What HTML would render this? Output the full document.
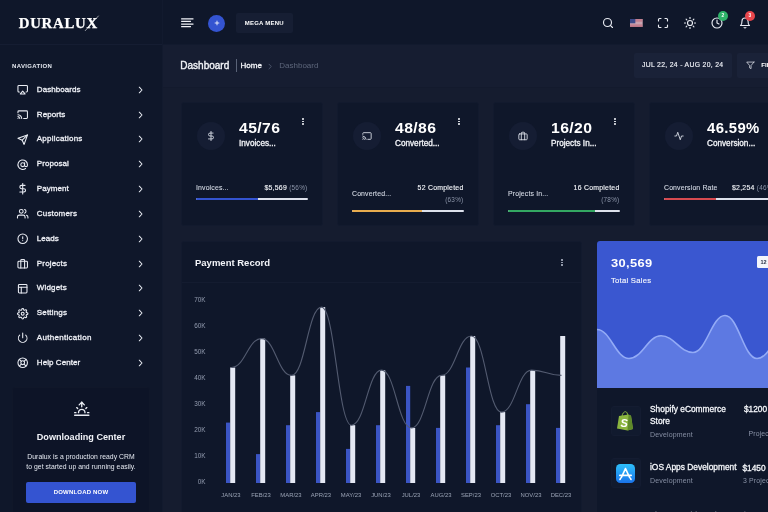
<!DOCTYPE html>
<html lang="en">
<head>
<meta charset="utf-8">
<title>Duralux Dashboard</title>
<style>
*{box-sizing:border-box;margin:0;padding:0}
html,body{width:768px;height:512px;overflow:hidden;background:#151c2f;font-family:"Liberation Sans",sans-serif;color:#fff}
.abs{position:absolute}
#app{will-change:transform;position:relative;width:768px;height:512px;overflow:hidden;background:#151c2f}
svg{display:block;overflow:visible}
.ic{fill:none;stroke:#e9ecf3;stroke-width:2;stroke-linecap:round;stroke-linejoin:round}
/* sidebar */
#side{position:absolute;left:0;top:0;width:163px;height:512px;background:#0f172a;border-right:1px solid #121a2e}
#logo{position:absolute;left:18.700px;top:13.300px;font-family:"Liberation Serif",serif;font-weight:bold;font-size:14.800px;letter-spacing:0.760px;-webkit-text-stroke:0.25px #fff;color:#fff;line-height:20px}
#sidehr{position:absolute;left:0;top:44px;width:162px;height:1px;background:#151d32}
#navlab{position:absolute;left:12px;top:61.700px;font-size:6px;font-weight:bold;letter-spacing:0.35px;color:#e4e8f0;line-height:8px}
.mi{position:absolute;left:0;width:162px;height:24px}
.mi svg.i{stroke-width:2.250;position:absolute;left:17.300px;top:6.300px;width:11.400px;height:11.400px}
.mi span{position:absolute;left:36.800px;top:6px;font-size:8px;font-weight:normal;-webkit-text-stroke:0.3px currentColor;line-height:12px;color:#eef0f6;letter-spacing:0.07px}
.mi svg.c{position:absolute;left:136.800px;top:8px;width:7px;height:8px}
#dl{position:absolute;left:12px;top:387px;width:138px;height:130px;background:#0d1427;border:1px solid #101729;border-radius:3px}
#dl h6{position:absolute;left:0;width:100%;top:43px;text-align:center;font-size:9.100px;font-weight:bold;line-height:12px;color:#f1f3f8}
#dl p{position:absolute;left:0;width:100%;text-align:center;font-size:6.800px;letter-spacing:0.050px;line-height:9.800px;color:#e4e8f0;top:64px}
#dl .btn{position:absolute;left:13.250px;top:93.500px;width:109.500px;height:21px;background:#3454d1;border-radius:2px;text-align:center;font-size:6px;font-weight:bold;line-height:21px;letter-spacing:0.2px;color:#fff}
/* header */
#head{position:absolute;left:163px;top:0;width:605px;height:45px;background:#0f172a;border-bottom:1px solid #121a2e}
#mega{position:absolute;left:235.500px;top:13px;width:57.500px;height:19.500px;background:#161e33;border-radius:2px;text-align:center;font-size:6px;font-weight:bold;line-height:21.300px;letter-spacing:0.2px;color:#fff}
#plus{position:absolute;left:208.200px;top:14.500px;width:17px;height:17px;border-radius:50%;background:#3454d1}
/* page header */
#ph{position:absolute;left:163px;top:45px;width:605px;height:43px;background:#161d31;border-bottom:1px solid #131a2d}

.sb{font-weight:normal;-webkit-text-stroke:0.3px currentColor}
.hi{position:absolute;top:17px;width:12px;height:12px;stroke-width:2.300}
.badge{position:absolute;width:10px;height:10px;border-radius:50%;font-size:4.800px;line-height:10px;text-align:center;font-weight:bold;color:#fff}
#ptitle{position:absolute;left:180.300px;top:59.300px;font-size:10px;line-height:14px;color:#f3f5f9;-webkit-text-stroke:0.35px currentColor !important}
#pdiv{position:absolute;left:235.500px;top:59px;width:1px;height:13px;background:#5a6378}
#phome{position:absolute;left:240.500px;top:60.400px;font-size:8px;line-height:12px;color:#f3f5f9}
#pcur{position:absolute;left:279.300px;top:60.400px;font-size:8px;line-height:12px;color:#5d667b}
#date{position:absolute;left:633.500px;top:53px;width:98.500px;height:24.500px;background:#1a2238;border-radius:2px;text-align:center;font-size:6.800px;line-height:24.500px;color:#f0f2f8;letter-spacing:0.330px;-webkit-text-stroke:0.15px currentColor}
#filt{position:absolute;left:737.300px;top:53px;width:60px;height:24.500px;background:#1a2238;border-radius:2px;font-size:6.2px;font-weight:bold;line-height:24px;color:#fff}
/* stat cards */
.sc{position:absolute;top:102px;width:142px;height:124px;background:#0f172a;border:1px solid #121a2e;border-radius:3px}
.sc .circ{position:absolute;left:14.500px;top:18.500px;width:28px;height:28px;border-radius:50%;background:#151d33}
.sc .circ svg{position:absolute;left:9px;top:9px;width:10px;height:10px;stroke:#dde1ea;stroke-width:2.100}
.sc .num{position:absolute;left:57px;top:16px;font-size:14.300px;font-weight:bold;line-height:18px;color:#fff;letter-spacing:0.350px;transform:scaleX(1.1);transform-origin:left center;white-space:nowrap}
.sc .lab{position:absolute;left:57px;top:35px;font-size:8.200px;white-space:nowrap;line-height:12px;color:#f3f5f9}
.sc .dots{position:absolute;left:120px;top:15px;width:2px;height:8px}
.sc .dots i{display:block;width:1.800px;height:1.800px;border-radius:50%;background:#f3f5f9;margin-bottom:0.900px}
.sc .l{position:absolute;left:14px;font-size:6.900px;line-height:10px;color:#d3d8e3;letter-spacing:0.150px;white-space:nowrap;-webkit-text-stroke:0.1px currentColor}
.sc .r{position:absolute;right:14.500px;font-size:6.900px;line-height:10px;color:#f3f5f9;white-space:nowrap;text-align:right;letter-spacing:0.250px;-webkit-text-stroke:0.12px currentColor}
.sc .r em{font-style:normal;color:#8b94a8;font-size:6.4px;-webkit-text-stroke:0}
.sc .bar{position:absolute;left:14px;width:111.700px;height:2.400px;background:#dde1ec;border-radius:2px;overflow:hidden}
.sc .bar b{display:block;height:100%}

/* payment record */
#pr{position:absolute;left:181px;top:241px;width:401px;height:290px;background:#0f172a;border:1px solid #121a2e;border-radius:3px}
#prt{position:absolute;left:13px;top:14px;font-size:9.500px;font-weight:bold;line-height:14px;color:#f3f5f9}
#prh{position:absolute;left:0;top:40px;width:399px;height:1px;background:#141c30}
#chart{position:absolute;left:181px;top:241px;width:401px;height:271px}
#chart text{font-family:"Liberation Sans",sans-serif;font-size:6.400px;fill:#949db0}
/* right panel */
#rp{position:absolute;left:597px;top:241px;width:200px;height:300px;background:#0f172a;border-radius:3px;overflow:hidden}
#rpb{position:absolute;left:0;top:0;width:200px;height:147px;background:#3a57d0}
#rpn{position:absolute;left:14px;top:14.600px;font-size:11.500px;font-weight:bold;line-height:14px;color:#fff;letter-spacing:0.300px;transform:scaleX(1.12);transform-origin:left center}
#rpl{position:absolute;left:14px;top:35.200px;font-size:7.700px;line-height:10px;color:#f3f5fc;letter-spacing:0.250px;-webkit-text-stroke:0.15px currentColor}
#rpbadge{position:absolute;left:159.500px;top:14.700px;width:30px;height:12.300px;background:#f3f5fb;border-radius:1.500px;font-size:5.500px;font-weight:bold;line-height:12.300px;color:#283046;padding-left:4px}
.li{position:absolute;left:0;width:200px}
.li .ib{position:absolute;left:14px;top:0;width:30px;height:30px;border:1px solid #141c31;border-radius:3px;background:#111a2e}
.li .t{position:absolute;left:53px;font-size:8.400px;line-height:12.300px;color:#f3f5f9;white-space:nowrap}
.li .d{position:absolute;left:53px;font-size:7px;line-height:10px;color:#858ea2;letter-spacing:0.15px}
.li .p{position:absolute;font-size:8.300px;line-height:12.500px;color:#f3f5f9;white-space:nowrap}
.li .q{position:absolute;font-size:6.900px;line-height:10px;color:#8b94a8;white-space:nowrap;letter-spacing:0.15px}
</style>
</head>
<body>
<div id="app">

<!-- SIDEBAR -->
<div id="side">
  <div id="logo">DURALUX</div>
  <svg class="abs" viewBox="0 0 16 16" style="left:84px;top:15px;width:16px;height:16px"><path d="M14.400 1L1.300 15.600" stroke="#fff" stroke-width="0.650" stroke-linecap="round" fill="none" opacity="0.900"/></svg>
  <div id="sidehr"></div>
  <div id="navlab">NAVIGATION</div>
  <div class="mi" style="top:77.80px"><svg class="i ic" viewBox="0 0 24 24"><path d="M5 17H4a2 2 0 0 1-2-2V5a2 2 0 0 1 2-2h16a2 2 0 0 1 2 2v10a2 2 0 0 1-2 2h-1"/><polygon points="12 15 17 21 7 21 12 15"/></svg><span>Dashboards</span><svg class="c ic" viewBox="0 0 7 8"><path d="M2.300 1.200l2.700 2.800-2.700 2.800" style="stroke-width:1.050"/></svg></div>
  <div class="mi" style="top:102.63px"><svg class="i ic" viewBox="0 0 24 24"><path d="M2 16.1A5 5 0 0 1 5.9 20M2 12.05A9 9 0 0 1 9.95 20M2 8V6a2 2 0 0 1 2-2h16a2 2 0 0 1 2 2v12a2 2 0 0 1-2 2h-6"/><line x1="2" y1="20" x2="2.01" y2="20"/></svg><span>Reports</span><svg class="c ic" viewBox="0 0 7 8"><path d="M2.300 1.200l2.700 2.800-2.700 2.800" style="stroke-width:1.050"/></svg></div>
  <div class="mi" style="top:127.46px"><svg class="i ic" viewBox="0 0 24 24"><line x1="22" y1="2" x2="11" y2="13"/><polygon points="22 2 15 22 11 13 2 9 22 2"/></svg><span style="letter-spacing:0.220px">Applications</span><svg class="c ic" viewBox="0 0 7 8"><path d="M2.300 1.200l2.700 2.800-2.700 2.800" style="stroke-width:1.050"/></svg></div>
  <div class="mi" style="top:152.29px"><svg class="i ic" viewBox="0 0 24 24"><circle cx="12" cy="12" r="4"/><path d="M16 8v5a3 3 0 0 0 6 0v-1a10 10 0 1 0-3.92 7.94"/></svg><span>Proposal</span><svg class="c ic" viewBox="0 0 7 8"><path d="M2.300 1.200l2.700 2.800-2.700 2.800" style="stroke-width:1.050"/></svg></div>
  <div class="mi" style="top:177.12px"><svg class="i ic" viewBox="0 0 24 24"><line x1="12" y1="1" x2="12" y2="23"/><path d="M17 5H9.5a3.5 3.5 0 0 0 0 7h5a3.5 3.5 0 0 1 0 7H6"/></svg><span>Payment</span><svg class="c ic" viewBox="0 0 7 8"><path d="M2.300 1.200l2.700 2.800-2.700 2.800" style="stroke-width:1.050"/></svg></div>
  <div class="mi" style="top:201.95px"><svg class="i ic" viewBox="0 0 24 24"><path d="M17 21v-2a4 4 0 0 0-4-4H5a4 4 0 0 0-4 4v2"/><circle cx="9" cy="7" r="4"/><path d="M23 21v-2a4 4 0 0 0-3-3.87"/><path d="M16 3.13a4 4 0 0 1 0 7.75"/></svg><span style="letter-spacing:0.180px">Customers</span><svg class="c ic" viewBox="0 0 7 8"><path d="M2.300 1.200l2.700 2.800-2.700 2.800" style="stroke-width:1.050"/></svg></div>
  <div class="mi" style="top:226.78px"><svg class="i ic" viewBox="0 0 24 24"><circle cx="12" cy="12" r="10"/><line x1="12" y1="8" x2="12" y2="12"/><line x1="12" y1="16" x2="12.01" y2="16"/></svg><span>Leads</span><svg class="c ic" viewBox="0 0 7 8"><path d="M2.300 1.200l2.700 2.800-2.700 2.800" style="stroke-width:1.050"/></svg></div>
  <div class="mi" style="top:251.61px"><svg class="i ic" viewBox="0 0 24 24"><rect x="2" y="7" width="20" height="14" rx="2" ry="2"/><path d="M16 21V5a2 2 0 0 0-2-2h-4a2 2 0 0 0-2 2v16"/></svg><span style="letter-spacing:0.180px">Projects</span><svg class="c ic" viewBox="0 0 7 8"><path d="M2.300 1.200l2.700 2.800-2.700 2.800" style="stroke-width:1.050"/></svg></div>
  <div class="mi" style="top:276.44px"><svg class="i ic" viewBox="0 0 24 24"><rect x="3" y="3" width="18" height="18" rx="2" ry="2"/><line x1="3" y1="9" x2="21" y2="9"/><line x1="9" y1="21" x2="9" y2="9"/></svg><span style="letter-spacing:0.180px">Widgets</span><svg class="c ic" viewBox="0 0 7 8"><path d="M2.300 1.200l2.700 2.800-2.700 2.800" style="stroke-width:1.050"/></svg></div>
  <div class="mi" style="top:301.27px"><svg class="i ic" viewBox="0 0 24 24"><circle cx="12" cy="12" r="3"/><path d="M19.4 15a1.65 1.65 0 0 0 .33 1.82l.06.06a2 2 0 0 1 0 2.83 2 2 0 0 1-2.83 0l-.06-.06a1.65 1.65 0 0 0-1.82-.33 1.65 1.65 0 0 0-1 1.51V21a2 2 0 0 1-2 2 2 2 0 0 1-2-2v-.09A1.65 1.65 0 0 0 9 19.4a1.65 1.65 0 0 0-1.82.33l-.06.06a2 2 0 0 1-2.83 0 2 2 0 0 1 0-2.83l.06-.06a1.65 1.65 0 0 0 .33-1.82 1.65 1.65 0 0 0-1.51-1H3a2 2 0 0 1-2-2 2 2 0 0 1 2-2h.09A1.65 1.65 0 0 0 4.6 9a1.65 1.65 0 0 0-.33-1.82l-.06-.06a2 2 0 0 1 0-2.83 2 2 0 0 1 2.83 0l.06.06a1.65 1.65 0 0 0 1.82.33H9a1.65 1.65 0 0 0 1-1.51V3a2 2 0 0 1 2-2 2 2 0 0 1 2 2v.09a1.65 1.65 0 0 0 1 1.51 1.65 1.65 0 0 0 1.82-.33l.06-.06a2 2 0 0 1 2.83 0 2 2 0 0 1 0 2.83l-.06.06a1.65 1.65 0 0 0-.33 1.82V9a1.65 1.65 0 0 0 1.51 1H21a2 2 0 0 1 2 2 2 2 0 0 1-2 2h-.09a1.65 1.65 0 0 0-1.51 1z"/></svg><span style="letter-spacing:0.180px">Settings</span><svg class="c ic" viewBox="0 0 7 8"><path d="M2.300 1.200l2.700 2.800-2.700 2.800" style="stroke-width:1.050"/></svg></div>
  <div class="mi" style="top:326.10px"><svg class="i ic" viewBox="0 0 24 24"><path d="M18.36 6.64a9 9 0 1 1-12.73 0"/><line x1="12" y1="2" x2="12" y2="12"/></svg><span style="letter-spacing:0.300px">Authentication</span><svg class="c ic" viewBox="0 0 7 8"><path d="M2.300 1.200l2.700 2.800-2.700 2.800" style="stroke-width:1.050"/></svg></div>
  <div class="mi" style="top:350.93px"><svg class="i ic" viewBox="0 0 24 24"><circle cx="12" cy="12" r="10"/><circle cx="12" cy="12" r="4"/><line x1="4.93" y1="4.93" x2="9.17" y2="9.17"/><line x1="14.83" y1="14.83" x2="19.07" y2="19.07"/><line x1="14.83" y1="9.17" x2="19.07" y2="4.93"/><line x1="4.93" y1="19.07" x2="9.17" y2="14.83"/></svg><span>Help Center</span><svg class="c ic" viewBox="0 0 7 8"><path d="M2.300 1.200l2.700 2.800-2.700 2.800" style="stroke-width:1.050"/></svg></div>
  <div id="dl">
    <svg class="ic" viewBox="0 0 24 24" style="position:absolute;left:60.650px;top:12.550px;width:15.500px;height:15.500px;stroke-width:2.100"><path d="M17 18a5 5 0 0 0-10 0"/><line x1="12" y1="2" x2="12" y2="9"/><line x1="4.220" y1="10.220" x2="5.640" y2="11.640"/><line x1="1" y1="18" x2="3" y2="18"/><line x1="21" y1="18" x2="23" y2="18"/><line x1="18.360" y1="11.640" x2="19.780" y2="10.220"/><line x1="23" y1="22" x2="1" y2="22"/><polyline points="8 6 12 2 16 6"/></svg>
    <h6>Downloading Center</h6>
    <p>Duralux is a production ready CRM<br>to get started up and running easily.</p>
    <div class="btn">DOWNLOAD NOW</div>
  </div>
</div>

<!-- HEADER -->
<div id="head"></div>
<div id="plus"></div>
<div id="mega">MEGA MENU</div>


<!-- header icons -->
<svg class="abs" viewBox="0 0 12 10" style="left:181.200px;top:17.800px;width:12.300px;height:10px"><path d="M0 0.800h12.300M0 3.400h9.800M0 6h12.300M0 8.600h9.800" stroke="#f1f3f8" stroke-width="1.250" fill="none"/></svg>
<svg class="abs" viewBox="0 0 8 8" style="left:213.700px;top:20px;width:6px;height:6px"><path d="M4 1.500v5M1.500 4h5" stroke="#fff" stroke-width="1.100" stroke-linecap="round" fill="none"/></svg>
<svg class="hi ic" viewBox="0 0 24 24" style="left:602px;"><circle cx="11" cy="11" r="8"/><line x1="21" y1="21" x2="16.65" y2="16.65"/></svg>
<svg class="abs" viewBox="0 0 26 18" style="left:629.700px;top:19.200px;width:12.600px;height:7.900px" preserveAspectRatio="none"><rect width="26" height="18" fill="#d8dbe4"/><g fill="#b5475a"><rect y="0" width="26" height="1.400"/><rect y="2.800" width="26" height="1.400"/><rect y="5.600" width="26" height="1.400"/><rect y="8.400" width="26" height="1.400"/><rect y="11.200" width="26" height="1.400"/><rect y="14" width="26" height="1.400"/><rect y="16.600" width="26" height="1.400"/></g><rect width="11" height="9.800" fill="#3c4a8a"/></svg>
<svg class="hi ic" viewBox="0 0 24 24" style="left:657px;"><path d="M8 3H5a2 2 0 0 0-2 2v3m18 0V5a2 2 0 0 0-2-2h-3m0 18h3a2 2 0 0 0 2-2v-3M3 16v3a2 2 0 0 0 2 2h3"/></svg>
<svg class="hi ic" viewBox="0 0 24 24" style="left:684px;"><circle cx="12" cy="12" r="5"/><line x1="12" y1="1" x2="12" y2="3"/><line x1="12" y1="21" x2="12" y2="23"/><line x1="4.220" y1="4.220" x2="5.640" y2="5.640"/><line x1="18.360" y1="18.360" x2="19.780" y2="19.780"/><line x1="1" y1="12" x2="3" y2="12"/><line x1="21" y1="12" x2="23" y2="12"/><line x1="4.220" y1="19.780" x2="5.640" y2="18.360"/><line x1="18.360" y1="5.640" x2="19.780" y2="4.220"/></svg>
<svg class="hi ic" viewBox="0 0 24 24" style="left:711px;"><circle cx="12" cy="12" r="10"/><polyline points="12 6 12 12 16 14"/></svg>
<svg class="hi ic" viewBox="0 0 24 24" style="left:739px;"><path d="M18 8A6 6 0 0 0 6 8c0 7-3 9-3 9h18s-3-2-3-9"/><path d="M13.730 21a2 2 0 0 1-3.460 0"/></svg>
<div class="badge" style="left:717.750px;top:10.750px;background:#2fb36a">2</div>
<div class="badge" style="left:744.750px;top:10.750px;background:#e8464c">3</div>

<!-- PAGE HEADER -->
<div id="ph"></div>
<div id="ptitle" class="sb">Dashboard</div><div id="pdiv"></div>
<div id="phome" class="sb">Home</div>
<svg class="abs" viewBox="0 0 7 8" style="left:267.300px;top:62.500px;width:6px;height:7px"><path d="M2 1l3 3-3 3" stroke="#4d566b" stroke-width="1.100" fill="none"/></svg>
<div id="pcur">Dashboard</div>
<div id="date">JUL 22, 24 - AUG 20, 24</div>
<div id="filt"><svg class="ic" viewBox="0 0 24 24" style="position:absolute;left:9.100px;top:8.300px;width:8.700px;height:8.700px"><polygon points="22 3 2 3 10 12.460 10 19 14 21 14 12.460 22 3"/></svg><span style="position:absolute;left:24px">FILTER</span></div>


<!-- STAT CARDS -->
<div class="sc" style="left:181px">
  <div class="circ"><svg class="ic" viewBox="0 0 24 24"><line x1="12" y1="1" x2="12" y2="23"/><path d="M17 5H9.500a3.500 3.500 0 0 0 0 7h5a3.500 3.500 0 0 1 0 7H6"/></svg></div>
  <div class="num">45/76</div><div class="lab sb">Invoices...</div>
  <div class="dots"><i></i><i></i><i></i></div>
  <div class="l" style="top:79.600px">Invoices...</div><div class="r sb" style="top:79.600px">$5,569 <em>(56%)</em></div><div class="bar" style="top:94.800px"><b style="width:55.500%;background:#3454d1"></b></div>
</div>
<div class="sc" style="left:337px">
  <div class="circ"><svg class="ic" viewBox="0 0 24 24"><path d="M2 16.100A5 5 0 0 1 5.900 20M2 12.050A9 9 0 0 1 9.950 20M2 8V6a2 2 0 0 1 2-2h16a2 2 0 0 1 2 2v12a2 2 0 0 1-2 2h-6"/><line x1="2" y1="20" x2="2.010" y2="20"/></svg></div>
  <div class="num">48/86</div><div class="lab sb">Converted...</div>
  <div class="dots"><i></i><i></i><i></i></div>
  <div class="l" style="top:85.700px">Converted...</div><div class="r" style="top:80px">52 Completed</div><div class="r" style="top:92.300px"><em>(63%)</em></div><div class="bar" style="top:106.700px"><b style="width:62.500%;background:#e8ac4e"></b></div>
</div>
<div class="sc" style="left:493px">
  <div class="circ"><svg class="ic" viewBox="0 0 24 24"><rect x="2" y="7" width="20" height="14" rx="2" ry="2"/><path d="M16 21V5a2 2 0 0 0-2-2h-4a2 2 0 0 0-2 2v16"/></svg></div>
  <div class="num">16/20</div><div class="lab sb">Projects In...</div>
  <div class="dots"><i></i><i></i><i></i></div>
  <div class="l" style="top:85.700px">Projects In...</div><div class="r" style="top:80px">16 Completed</div><div class="r" style="top:92.300px"><em>(78%)</em></div><div class="bar" style="top:106.700px"><b style="width:78%;background:#33a862"></b></div>
</div>
<div class="sc" style="left:649px">
  <div class="circ"><svg class="ic" viewBox="0 0 24 24"><polyline points="22 12 18 12 15 21 9 3 6 12 2 12"/></svg></div>
  <div class="num" style="transform:scaleX(1.04)">46.59%</div><div class="lab sb">Conversion...</div>
  <div class="dots"><i></i><i></i><i></i></div>
  <div class="l" style="top:79.600px">Conversion Rate</div><div class="r sb" style="top:79.600px;right:auto;left:82px;text-align:left">$2,254 <em>(46%)</em></div><div class="bar" style="top:94.800px"><b style="width:46.500%;background:#d64a50"></b></div>
</div>

<!-- PAYMENT RECORD -->
<div id="pr"><div id="prt">Payment Record</div><div id="prh"></div>
<div class="dots abs" style="left:379px;top:17px;width:2px"><i style="display:block;width:1.500px;height:1.500px;border-radius:50%;background:#aab1c2;margin-bottom:1px"></i><i style="display:block;width:1.500px;height:1.500px;border-radius:50%;background:#aab1c2;margin-bottom:1px"></i><i style="display:block;width:1.500px;height:1.500px;border-radius:50%;background:#aab1c2"></i></div>
</div>
<svg id="chart" viewBox="0 0 401 271">
<text x="24.5" y="242.8" text-anchor="end">0K</text><text x="24.5" y="216.8" text-anchor="end">10K</text><text x="24.5" y="190.8" text-anchor="end">20K</text><text x="24.5" y="164.8" text-anchor="end">30K</text><text x="24.5" y="138.8" text-anchor="end">40K</text><text x="24.5" y="112.8" text-anchor="end">50K</text><text x="24.5" y="86.8" text-anchor="end">60K</text><text x="24.5" y="60.8" text-anchor="end">70K</text>
<rect x="45" y="181.6" width="4.200" height="60.4" fill="#3b55c4"/><rect x="49.2" y="126.5" width="5" height="115.5" fill="#e4e8f3"/><rect x="75" y="213.1" width="4.200" height="28.9" fill="#3b55c4"/><rect x="79.2" y="97.6" width="5" height="144.4" fill="#e4e8f3"/><rect x="105" y="184.2" width="4.200" height="57.8" fill="#3b55c4"/><rect x="109.2" y="134.4" width="5" height="107.6" fill="#e4e8f3"/><rect x="135" y="171.1" width="4.200" height="70.9" fill="#3b55c4"/><rect x="139.2" y="66.1" width="5" height="175.9" fill="#e4e8f3"/><rect x="165" y="207.9" width="4.200" height="34.1" fill="#3b55c4"/><rect x="169.2" y="184.2" width="5" height="57.8" fill="#e4e8f3"/><rect x="195" y="184.2" width="4.200" height="57.8" fill="#3b55c4"/><rect x="199.2" y="129.1" width="5" height="112.9" fill="#e4e8f3"/><rect x="225" y="144.9" width="4.200" height="97.1" fill="#3b55c4"/><rect x="229.2" y="186.9" width="5" height="55.1" fill="#e4e8f3"/><rect x="255" y="186.9" width="4.200" height="55.1" fill="#3b55c4"/><rect x="259.2" y="134.4" width="5" height="107.6" fill="#e4e8f3"/><rect x="285" y="126.5" width="4.200" height="115.5" fill="#3b55c4"/><rect x="289.2" y="95.0" width="5" height="147.0" fill="#e4e8f3"/><rect x="315" y="184.2" width="4.200" height="57.8" fill="#3b55c4"/><rect x="319.2" y="171.1" width="5" height="70.9" fill="#e4e8f3"/><rect x="345" y="163.2" width="4.200" height="78.8" fill="#3b55c4"/><rect x="349.2" y="129.1" width="5" height="112.9" fill="#e4e8f3"/><rect x="375" y="186.9" width="4.200" height="55.1" fill="#3b55c4"/><rect x="379.2" y="95.0" width="5" height="147.0" fill="#e4e8f3"/>
<path d="M50.5 126.5C64.1 126.5 66.9 97.6 80.5 97.6C94.1 97.6 96.9 134.4 110.5 134.4C124.1 134.4 126.9 66.1 140.5 66.1C154.1 66.1 156.9 184.2 170.5 184.2C184.1 184.2 186.9 129.1 200.5 129.1C214.1 129.1 216.9 186.9 230.5 186.9C244.1 186.9 246.9 134.4 260.5 134.4C274.1 134.4 276.9 95.0 290.5 95.0C304.1 95.0 306.9 171.1 320.5 171.1C334.1 171.1 336.9 129.1 350.5 129.1C364.1 129.1 366.9 134.4 380.5 134.4" fill="none" stroke="#535b70" stroke-width="1.100"/>
<text x="50" y="255.900" text-anchor="middle" style="font-size:5.900px;fill:#9aa3b5">JAN/23</text><text x="80" y="255.900" text-anchor="middle" style="font-size:5.900px;fill:#9aa3b5">FEB/23</text><text x="110" y="255.900" text-anchor="middle" style="font-size:5.900px;fill:#9aa3b5">MAR/23</text><text x="140" y="255.900" text-anchor="middle" style="font-size:5.900px;fill:#9aa3b5">APR/23</text><text x="170" y="255.900" text-anchor="middle" style="font-size:5.900px;fill:#9aa3b5">MAY/23</text><text x="200" y="255.900" text-anchor="middle" style="font-size:5.900px;fill:#9aa3b5">JUN/23</text><text x="230" y="255.900" text-anchor="middle" style="font-size:5.900px;fill:#9aa3b5">JUL/23</text><text x="260" y="255.900" text-anchor="middle" style="font-size:5.900px;fill:#9aa3b5">AUG/23</text><text x="290" y="255.900" text-anchor="middle" style="font-size:5.900px;fill:#9aa3b5">SEP/23</text><text x="320" y="255.900" text-anchor="middle" style="font-size:5.900px;fill:#9aa3b5">OCT/23</text><text x="350" y="255.900" text-anchor="middle" style="font-size:5.900px;fill:#9aa3b5">NOV/23</text><text x="380" y="255.900" text-anchor="middle" style="font-size:5.900px;fill:#9aa3b5">DEC/23</text>
</svg>

<!-- RIGHT PANEL -->
<div id="rp"><div id="rpb"><svg class="abs" viewBox="0 0 200 147" style="left:0;top:0;width:200px;height:147px"><path d="M0.0 88.5C13.3 88.5 18.7 117.5 32.0 117.5C45.3 117.5 50.7 94.8 64.0 94.8C77.3 94.8 82.7 111.5 96.0 111.5C109.3 111.5 114.7 74.5 128.0 74.5C141.3 74.5 146.7 117.5 160.0 117.5C173.3 117.5 178.7 89.0 192.0 89.0L192 147L0 147Z" fill="#5d79e2"/><path d="M0.0 88.5C13.3 88.5 18.7 117.5 32.0 117.5C45.3 117.5 50.7 94.8 64.0 94.8C77.3 94.8 82.7 111.5 96.0 111.5C109.3 111.5 114.7 74.5 128.0 74.5C141.3 74.5 146.7 117.5 160.0 117.5C173.3 117.5 178.7 89.0 192.0 89.0" fill="none" stroke="#93abf6" stroke-width="1.600"/></svg><div id="rpn">30,569</div><div id="rpl">Total Sales</div><div id="rpbadge">12 Hours</div></div>
<div class="li" style="top:165px"><div class="ib"><svg viewBox="0 0 18 20" style="position:absolute;left:4.200px;top:3.200px;width:18px;height:21px"><path d="M3 5.500L12.500 4l2.500 1.200L17 18.500 11.500 20 1 18z" fill="#8bb53f"/><path d="M12.500 4l2.500 1.200L17 18.500 11.500 20z" fill="#5f8a2a"/><path d="M6 6.500C6 3 8 1.200 9.500 1.200S11.500 3 11.800 5.500" fill="none" stroke="#8bb53f" stroke-width="1"/><text x="4.600" y="16.300" font-family="Liberation Sans,sans-serif" font-weight="bold" font-style="italic" font-size="11" fill="#fff">S</text></svg></div><div class="t sb" style="top:-3px">Shopify eCommerce<br>Store</div><div class="d" style="top:23.500px">Development</div><div class="p sb" style="left:147px;top:-3px">$1200 USD</div><div class="q" style="left:151.500px;top:22.500px">Projects</div></div>
<div class="li" style="top:217px"><div class="ib"><svg viewBox="0 0 20 20" style="position:absolute;left:4.400px;top:5px;width:19px;height:19px"><defs><linearGradient id="ag" x1="0" y1="0" x2="0" y2="1"><stop offset="0" stop-color="#2ec0fb"/><stop offset="1" stop-color="#1a73ea"/></linearGradient></defs><rect width="20" height="20" rx="4.500" fill="url(#ag)"/><path d="M10 4.800L5.800 13.800M10 4.800L14.200 13.800M4 12h12M5 14.800l-0.800 1.500M15 14.800l0.800 1.500" stroke="#fff" stroke-width="1.700" stroke-linecap="round" fill="none"/></svg></div><div class="t sb" style="top:3px">iOS Apps Development</div><div class="d" style="top:17.500px">Development</div><div class="p sb" style="left:145.500px;top:4.200px">$1450 USD</div><div class="q" style="left:146px;top:17.500px">3 Projects</div></div>
<div class="li" style="top:268.800px"><div class="t sb" style="top:0">Figma Dashboard</div><div class="p sb" style="left:145.500px;top:0">$1250 USD</div></div>
</div>

</div>
</body>
</html>
